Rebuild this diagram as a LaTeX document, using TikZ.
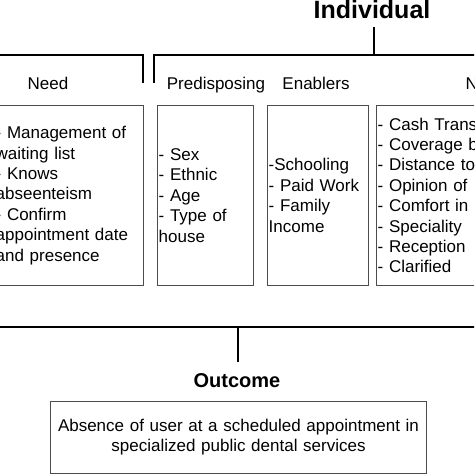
\documentclass[tikz,border=0pt]{standalone}
\usepackage{fontspec}
\setmainfont{Liberation Sans}
\usetikzlibrary{positioning}
\tikzset{
  box/.style={draw=black!70, line width=0.5pt, anchor=north west, align=left,
    inner sep=0.6pt, minimum height=90pt, font=\fontsize{8.5}{10.2}\selectfont},
  outbox/.style={draw=black!70, line width=0.5pt, anchor=north west, align=center,
    inner sep=0.6pt, minimum height=36pt, text width=186.8pt,
    font=\fontsize{8.5}{10}\selectfont},
  hdr/.style={anchor=base, inner sep=0pt, font=\fontsize{8.5}{10}\selectfont},
  ttl/.style={anchor=base, inner sep=0pt, font=\fontsize{12.5}{14}\selectfont\bfseries},
  subttl/.style={anchor=base, inner sep=0pt, font=\fontsize{10}{12}\selectfont\bfseries},
  brk/.style={draw=black, line width=1.1pt}
}
\begin{document}
\begin{tikzpicture}[x=0.5pt, y=-0.5pt]
  \path[use as bounding box, clip] (0,0) rectangle (474,474);

  % titles
  \node[ttl] (indiv) at (372,19) {Individual};
  \node[subttl] (outc) at (237,387) {Outcome};

  % group headings
  \node[hdr] (hneed) at (48,90) {Need};
  \node[hdr] (hpre) at (216,90) {Predisposing};
  \node[hdr] (hena) at (316,90) {Enablers};
  \node[hdr] (hneed2) at (486,90) {Need};

  % boxes
  \node[box, text width=73.3pt] (bneed) at (-6,105)
    {- Management of\\waiting list\\- Knows\\abseenteism\\- Confirm\\appointment date\\and presence};
  \node[box, text width=46.8pt] (bpre) at (157,105)
    {- Sex\\- Ethnic\\- Age\\- Type of\\house};
  \node[box, text width=49.3pt] (bena) at (267,105)
    {-Schooling\\- Paid Work\\- Family\\Income};
  \node[box, text width=70pt] (bneed2) at (376,105)
    {- Cash Transfer\\- Coverage by\\- Distance to\\- Opinion of\\- Comfort in\\- Speciality\\- Reception\\- Clarified};

  \node[outbox] (bout) at (50,401)
    {Absence of user at a scheduled appointment in\\specialized public dental services};

  % brackets
  \coordinate (needL) at (-10,55);
  \coordinate (needR) at (143,55);
  \coordinate (indL) at (154,55);
  \coordinate (indR) at (490,55);
  \coordinate (indJ) at (374,55);
  \coordinate (indT) at (374,27);
  \draw[brk] (needL) -- (needR) -- ++(0,28);
  \draw[brk] ([yshift=-14pt]indL) -- (indL) -- (indR);
  \draw[brk] (indT) -- (indJ);

  \coordinate (baseL) at (-10,327);
  \coordinate (baseR) at (490,327);
  \coordinate (baseJ) at (238,327);
  \coordinate (outT) at (238,362);
  \draw[brk] (baseL) -- (baseR);
  \draw[brk] (baseJ) -- (outT);
\end{tikzpicture}
\end{document}
